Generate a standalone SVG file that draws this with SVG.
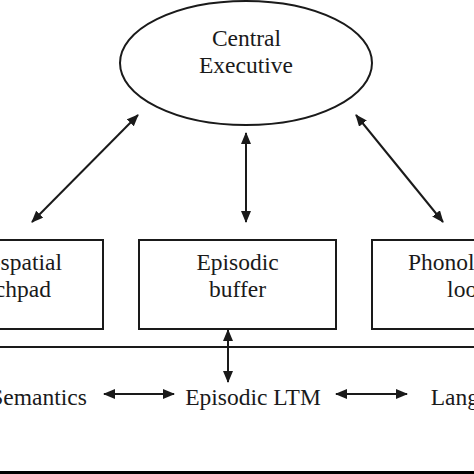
<svg xmlns="http://www.w3.org/2000/svg" width="474" height="474" viewBox="0 0 474 474">
<style>
.s{fill:none;stroke:#1a1a1a;stroke-width:2}
.t{font-family:"Liberation Serif","Times New Roman",serif;font-size:23.5px;fill:#1a1a1a;text-anchor:middle}
.a{stroke:#1a1a1a;stroke-width:2;fill:none;marker-start:url(#h);marker-end:url(#h)}
</style>
<defs>
<marker id="h" viewBox="0 0 12 10" refX="11" refY="5" markerWidth="12" markerHeight="10" markerUnits="userSpaceOnUse" orient="auto-start-reverse">
<path d="M0,0 L12,5 L0,10 Z" fill="#1a1a1a"/>
</marker>
</defs>
<rect width="474" height="474" fill="#fff"/>
<g id="central-executive">
<ellipse class="s" cx="246" cy="63" rx="126" ry="62"/>
<text class="t" x="246.5" y="46">Central</text>
<text class="t" x="246" y="73">Executive</text>
</g>
<g id="visuospatial-sketchpad">
<rect class="s" x="-100" y="240" width="203" height="89"/>
<text class="t" x="0" y="270">Visuo-spatial</text>
<text class="t" x="4" y="297">sketchpad</text>
</g>
<g id="episodic-buffer">
<rect class="s" x="139" y="240" width="197" height="89"/>
<text class="t" x="237.5" y="270">Episodic</text>
<text class="t" x="237.5" y="297">buffer</text>
</g>
<g id="phonological-loop">
<rect class="s" x="372" y="240" width="194" height="89"/>
<text class="t" x="470" y="270">Phonological</text>
<text class="t" x="468" y="297">loop</text>
</g>
<g id="semantics"><text class="t" x="38.5" y="405">Semantics</text></g>
<g id="episodic-ltm"><text class="t" x="253" y="405">Episodic LTM</text></g>
<g id="language"><text class="t" x="477" y="405">Language</text></g>
<g id="lines">
<line x1="0" y1="347" x2="474" y2="347" stroke="#1a1a1a" stroke-width="2"/>
<line x1="0" y1="472.5" x2="474" y2="472.5" stroke="#000" stroke-width="3"/>
</g>
<g id="connectors">
<line class="a" x1="138" y1="115" x2="32" y2="222"/>
<line class="a" x1="246" y1="133" x2="246" y2="222"/>
<line class="a" x1="356" y1="115" x2="443" y2="222"/>
<line class="a" x1="228" y1="330" x2="228" y2="382"/>
<line class="a" x1="104" y1="394" x2="174" y2="394"/>
<line class="a" x1="336" y1="394" x2="407" y2="394"/>
</g>
</svg>
